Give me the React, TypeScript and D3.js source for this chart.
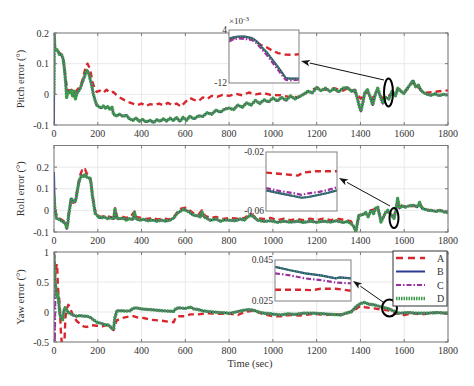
import React from 'react';
import * as d3 from 'd3';

type P = [number, number];

// ---------- data ----------
const xTicks = [0, 200, 400, 600, 800, 1000, 1200, 1400, 1600, 1800];
const pitchTicks = [-0.1, 0, 0.1, 0.2];
const rollTicks = [-0.1, 0, 0.1, 0.2];
const yawTicks = [-0.5, 0, 0.5, 1];
const legendNames = ['A', 'B', 'C', 'D'];

const pitchA: P[] = [[0,0.2],[5,0.15],[15,0.14],[25,0.135],[35,0.13],[42,0.12],[48,0.085],[55,0.04],[62,0.015],[70,0.012],[80,0.015],[90,0.005],[100,0.01],[112,0.02],[125,0.035],[135,0.06],[145,0.09],[153,0.1],[160,0.09],[168,0.07],[176,0.04],[185,0.02],[195,0.008],[210,0.012],[225,0.005],[240,0.015],[255,0.005],[270,0.008],[285,-0.002],[300,-0.01],[320,-0.018],[340,-0.025],[360,-0.03],[380,-0.035],[400,-0.03],[420,-0.038],[440,-0.032],[460,-0.035],[480,-0.03],[500,-0.036],[520,-0.028],[540,-0.035],[560,-0.03],[580,-0.04],[600,-0.025],[620,-0.012],[640,-0.018],[660,-0.022],[680,-0.01],[700,-0.015],[720,-0.005],[745,-0.008],[770,-0.002],[800,-0.005],[830,0.002],[860,-0.003],[890,0.006],[920,0],[958,0.004],[990,-0.002],[1035,-0.003],[1070,-0.008],[1113,-0.009],[1140,0],[1170,0.012],[1205,0.022],[1240,0.015],[1280,0.02],[1320,0.012],[1342,0.02],[1370,0.01],[1390,-0.005],[1402,-0.014],[1415,-0.005],[1432,0.01],[1456,-0.015],[1479,0.015],[1502,-0.015],[1530,-0.005],[1550,0.01],[1571,0.018],[1600,0.005],[1640,0.04],[1660,0.025],[1680,0.012],[1700,0.005],[1723,0.007],[1760,0.01],[1800,0.013]];
const pitchD: P[] = [[0,0],[1,0.195],[4,0.145],[15,0.145],[25,0.13],[35,0.128],[42,0.115],[48,0.08],[53,0.04],[58,-0.01],[63,0.01],[70,0.005],[78,0.012],[85,-0.005],[92,0.01],[98,-0.015],[105,0.005],[112,0.01],[120,0.02],[130,0.04],[140,0.06],[150,0.078],[158,0.07],[165,0.05],[172,0.03],[180,0],[188,-0.02],[195,-0.035],[205,-0.04],[215,-0.045],[225,-0.038],[235,-0.045],[245,-0.04],[255,-0.048],[265,-0.042],[272,-0.065],[285,-0.07],[300,-0.065],[315,-0.072],[330,-0.068],[345,-0.08],[360,-0.085],[375,-0.078],[390,-0.088],[405,-0.082],[420,-0.09],[440,-0.085],[455,-0.092],[470,-0.083],[485,-0.088],[500,-0.08],[515,-0.087],[530,-0.078],[545,-0.085],[560,-0.076],[575,-0.088],[590,-0.075],[605,-0.085],[620,-0.072],[640,-0.08],[660,-0.07],[680,-0.072],[700,-0.06],[720,-0.065],[740,-0.052],[760,-0.058],[780,-0.048],[800,-0.045],[820,-0.05],[840,-0.035],[860,-0.042],[880,-0.028],[900,-0.035],[920,-0.02],[940,-0.03],[960,-0.018],[980,-0.025],[1000,-0.012],[1020,-0.022],[1040,-0.01],[1060,-0.02],[1080,-0.005],[1100,-0.015],[1120,-0.008],[1140,0],[1160,0.01],[1180,0.005],[1200,0.022],[1220,0.012],[1240,0.02],[1260,0.01],[1280,0.018],[1300,0.008],[1320,0.02],[1340,0.022],[1360,0.01],[1375,0.015],[1385,-0.01],[1395,-0.04],[1402,-0.055],[1410,-0.03],[1420,0.005],[1432,0.015],[1445,-0.01],[1456,-0.035],[1468,0],[1479,0.02],[1490,-0.005],[1502,-0.03],[1515,-0.01],[1530,-0.015],[1545,0.01],[1560,-0.005],[1571,0.02],[1585,0.01],[1598,0.003],[1615,0.02],[1630,0.035],[1640,0.045],[1652,0.025],[1665,0.03],[1677,0.012],[1690,0.005],[1705,0],[1723,-0.003],[1740,0.002],[1760,-0.004],[1780,0],[1800,-0.003]];
const pitchBStart: P[] = [[0,-0.1]];

const rollA: P[] = [[0,0.05],[8,-0.01],[15,-0.03],[30,-0.04],[45,-0.05],[55,-0.06],[62,-0.07],[68,-0.02],[74,0.03],[80,0.05],[88,0.035],[96,0.04],[104,0.08],[112,0.13],[120,0.165],[128,0.185],[135,0.18],[142,0.19],[150,0.17],[160,0.165],[168,0.14],[175,0.08],[182,0.03],[190,-0.01],[200,-0.025],[215,-0.03],[235,-0.025],[255,-0.03],[272,-0.035],[279,0.01],[288,-0.03],[310,-0.028],[330,-0.035],[350,-0.03],[368,-0.005],[376,-0.03],[400,-0.035],[425,-0.04],[450,-0.035],[475,-0.042],[500,-0.038],[525,-0.042],[548,-0.03],[565,-0.005],[580,0.008],[600,0.012],[620,0],[640,-0.015],[660,-0.02],[676,0],[690,-0.025],[715,-0.035],[740,-0.03],[770,-0.04],[806,-0.035],[840,-0.038],[870,-0.035],[898,-0.015],[925,-0.035],[958,-0.04],[990,-0.035],[1020,-0.045],[1050,-0.038],[1080,-0.045],[1113,-0.04],[1140,-0.045],[1170,-0.038],[1200,-0.045],[1230,-0.038],[1264,-0.045],[1300,-0.04],[1330,-0.045],[1356,-0.05],[1370,-0.07],[1379,-0.09],[1386,-0.055],[1393,-0.025],[1420,-0.015],[1448,0],[1479,0.01],[1494,-0.045],[1525,-0.005],[1553,-0.03],[1570,0.04],[1590,0.018],[1625,0.02],[1650,0.02],[1670,0.03],[1690,0.005],[1723,0],[1760,0],[1800,-0.008]];
const rollD: P[] = [[0,0.07],[3,0.02],[8,-0.02],[12,-0.037],[20,-0.04],[30,-0.045],[43,-0.054],[52,-0.06],[58,-0.085],[63,-0.06],[68,-0.01],[73,0.015],[78,0.055],[83,0.05],[90,0.04],[96,0.038],[102,0.06],[108,0.1],[114,0.13],[120,0.15],[127,0.162],[135,0.158],[142,0.165],[150,0.154],[158,0.15],[165,0.148],[170,0.12],[175,0.07],[180,0.04],[188,-0.014],[195,-0.02],[203,-0.031],[215,-0.035],[230,-0.03],[245,-0.038],[260,-0.033],[272,-0.04],[279,0.005],[285,-0.035],[300,-0.04],[315,-0.035],[330,-0.045],[345,-0.038],[360,-0.042],[368,-0.01],[374,-0.038],[390,-0.045],[410,-0.042],[430,-0.048],[450,-0.044],[470,-0.05],[490,-0.045],[510,-0.05],[530,-0.045],[548,-0.035],[562,-0.014],[575,-0.005],[592,0.004],[605,0],[620,-0.01],[638,-0.023],[655,-0.025],[668,-0.03],[676,-0.008],[685,-0.03],[700,-0.038],[715,-0.046],[740,-0.04],[760,-0.05],[780,-0.044],[806,-0.046],[830,-0.048],[850,-0.04],[870,-0.045],[885,-0.03],[898,-0.022],[912,-0.03],[930,-0.045],[958,-0.051],[990,-0.048],[1020,-0.055],[1050,-0.05],[1080,-0.055],[1113,-0.05],[1140,-0.056],[1170,-0.05],[1200,-0.055],[1230,-0.05],[1264,-0.054],[1290,-0.048],[1320,-0.056],[1340,-0.052],[1356,-0.06],[1370,-0.075],[1379,-0.1],[1386,-0.06],[1393,-0.023],[1410,-0.02],[1425,-0.01],[1435,-0.03],[1448,0],[1460,-0.015],[1470,0.01],[1479,0.015],[1487,-0.02],[1494,-0.054],[1505,-0.03],[1515,-0.01],[1525,0],[1540,-0.02],[1553,-0.037],[1562,0],[1570,0.055],[1578,0.01],[1590,0.02],[1605,0.015],[1625,0.022],[1645,0.023],[1660,0.015],[1670,0.037],[1680,0.01],[1695,0.005],[1710,0],[1723,0],[1745,-0.005],[1765,0],[1785,-0.008],[1800,-0.01]];
const rollBStart: P[] = [[0,0.177]];

const yawA: P[] = [[0,1],[5,0.6],[10,0.75],[14,0.8],[17,0.5],[20,0.3],[24,0.2],[27,0.05],[31,-0.3],[35,-0.5],[42,-0.5],[48,-0.48],[52,-0.1],[58,0.05],[66,0.12],[75,0.05],[90,-0.08],[104,-0.15],[120,-0.2],[135,-0.24],[150,-0.25],[170,-0.22],[196,-0.23],[220,-0.24],[241,-0.22],[255,-0.24],[264,-0.28],[272,-0.3],[280,-0.2],[287,-0.14],[310,-0.1],[348,-0.07],[363,-0.07],[380,-0.09],[410,-0.1],[440,-0.13],[480,-0.14],[520,-0.16],[547,-0.17],[555,-0.1],[562,-0.07],[600,-0.07],[623,-0.04],[660,-0.04],[700,-0.02],[750,-0.03],[806,-0.03],[840,-0.05],[870,0],[912,0.02],[958,-0.04],[1000,-0.07],[1035,-0.07],[1080,-0.05],[1120,-0.06],[1189,-0.03],[1240,-0.05],[1270,-0.04],[1311,-0.04],[1340,-0.02],[1380,0.05],[1400,0.1],[1420,0.08],[1462,0.06],[1500,0.04],[1525,0.03],[1560,-0.02],[1600,-0.05],[1640,-0.02],[1680,-0.04],[1720,-0.02],[1760,-0.01],[1800,-0.03]];
const yawD: P[] = [[0,0.95],[3,0.6],[6,0.5],[10,0.35],[14,0.25],[18,0.3],[22,0.15],[27,-0.04],[33,-0.1],[40,-0.13],[45,0.02],[50,0.07],[58,0.03],[66,-0.01],[73,-0.02],[85,-0.05],[104,-0.07],[120,-0.06],[135,-0.07],[150,-0.07],[165,-0.09],[180,-0.13],[196,-0.17],[215,-0.19],[234,-0.21],[250,-0.22],[264,-0.27],[272,-0.29],[278,-0.1],[287,0.02],[310,0.02],[330,0.015],[348,0.02],[360,0.06],[375,0.07],[400,0.05],[440,0.04],[470,0.03],[500,0.02],[547,0.01],[555,0.05],[570,0.07],[600,0.06],[623,0.08],[640,0.05],[660,0.04],[680,0.02],[700,0.01],[730,0],[760,-0.01],[806,-0.02],[830,0],[867,0.03],[890,0.04],[912,0.03],[935,0],[958,-0.02],[990,-0.03],[1035,-0.05],[1070,-0.03],[1100,-0.04],[1140,-0.02],[1189,-0.02],[1230,-0.03],[1270,-0.04],[1311,-0.05],[1340,-0.01],[1357,0],[1380,0.09],[1400,0.14],[1417,0.16],[1440,0.13],[1462,0.12],[1490,0.09],[1525,0.06],[1550,0.02],[1570,-0.02],[1620,-0.01],[1660,-0.02],[1700,-0.02],[1750,-0.01],[1800,-0.02]];
const yawBStart: P[] = [[0,1]];
const yawCStart: P[] = [[0,1],[4,-0.5],[7,0.45]];

// insets (x = fraction of the zoomed window)
const pitchInsetA: P[] = [[0,1.3],[0.2,1.9],[0.35,1.2],[0.45,-0.5],[0.52,-1.0],[0.6,-2.0],[0.7,-3.0],[0.8,-3.4],[0.9,-3.5],[1,-3.3]];
const pitchInsetB: P[] = [[0,1.3],[0.062,1.8],[0.133,2.0],[0.229,2.0],[0.324,1.6],[0.395,0.6],[0.467,-1.2],[0.538,-2.7],[0.61,-4.7],[0.681,-6.7],[0.752,-8.7],[0.81,-10.5],[0.871,-10.7],[1,-10.7]];
const pitchInsetC: P[] = [[0,0.5],[0.062,1.2],[0.133,1.5],[0.229,1.3],[0.324,1.0],[0.395,0.0],[0.467,-1.8],[0.538,-3.5],[0.61,-5.5],[0.681,-7.5],[0.752,-9.5],[0.81,-11.0],[0.871,-11.2],[1,-11.0]];
const rollInsetA: P[] = [[0,-0.034],[0.25,-0.035],[0.45,-0.036],[0.52,-0.034],[0.7,-0.033],[1,-0.033]];
const rollInsetB: P[] = [[0,-0.046],[0.2,-0.048],[0.4,-0.05],[0.5,-0.051],[0.6,-0.0505],[0.75,-0.049],[0.85,-0.048],[1,-0.046]];
const rollInsetC: P[] = [[0,-0.0445],[0.2,-0.0465],[0.4,-0.048],[0.5,-0.049],[0.6,-0.048],[0.75,-0.047],[0.85,-0.046],[1,-0.044]];
const yawInsetA: P[] = [[0,0.0305],[0.3,0.0305],[0.5,0.0303],[0.6,0.031],[0.8,0.031],[1,0.030]];
const yawInsetB: P[] = [[0,0.0417],[0.2,0.04],[0.4,0.0385],[0.6,0.0375],[0.8,0.036],[0.85,0.0365],[1,0.036]];
const yawInsetC: P[] = [[0,0.0385],[0.2,0.0375],[0.4,0.036],[0.6,0.0352],[0.8,0.034],[1,0.0336]];

// ---------- styles ----------
const FONT = '"Liberation Serif", "DejaVu Serif", serif';
const COL = { A: '#d8262e', B: '#2b3a92', C: '#9a2f9d', D: '#3b9d48' };
const STYLE: Record<string, { dash?: string; w: number }> = {
  A: { dash: '6,4', w: 2.4 },
  B: { w: 2 },
  C: { dash: '5,2,1.5,2', w: 2 },
  D: { dash: '2,0.8', w: 3.3 },
};

const W = 474, H = 386, X0 = 54, X1 = 448;
const x = d3.scaleLinear().domain([0, 1800]).range([X0, X1]);

type Series = { A: P[]; B: P[]; C: P[]; D: P[] };

function Panel(props: { id: string; top: number; bottom: number; domain: [number, number]; ticks: number[]; label: string; series: Series; fmt: (v: number) => string }) {
  const { id, top, bottom, domain, ticks, label, series, fmt } = props;
  const y = d3.scaleLinear().domain(domain).range([bottom, top]);
  const line = d3.line<P>().x(d => x(d[0])).y(d => y(d[1]));
  const cy = (top + bottom) / 2;
  return (
    <g>
      <defs>
        <clipPath id={id}><rect x={X0} y={top} width={X1 - X0} height={bottom - top} /></clipPath>
      </defs>
      <rect x={X0} y={top} width={X1 - X0} height={bottom - top} fill="#fff" />
      {xTicks.map(t => <line key={'gx' + t} x1={x(t)} x2={x(t)} y1={top} y2={bottom} stroke="#e3e3e3" strokeWidth={0.8} />)}
      {ticks.map(t => <line key={'gy' + t} x1={X0} x2={X1} y1={y(t)} y2={y(t)} stroke="#e3e3e3" strokeWidth={0.8} />)}
      <g clipPath={`url(#${id})`}>
        {(['A', 'B', 'C', 'D'] as const).map(k => (
          <path key={k} d={line(series[k]) || ''} fill="none" stroke={COL[k]} strokeWidth={STYLE[k].w} strokeDasharray={STYLE[k].dash} strokeLinejoin="round" />
        ))}
      </g>
      <rect x={X0} y={top} width={X1 - X0} height={bottom - top} fill="none" stroke="#7a7a7a" strokeWidth={1} />
      {xTicks.map(t => (
        <g key={'tx' + t}>
          <line x1={x(t)} x2={x(t)} y1={bottom} y2={bottom - 3} stroke="#7a7a7a" />
          <line x1={x(t)} x2={x(t)} y1={top} y2={top + 3} stroke="#7a7a7a" />
          <text x={x(t)} y={bottom + 12} textAnchor="middle" fontSize={10} fontFamily={FONT} fill="#333">{t}</text>
        </g>
      ))}
      {ticks.map(t => (
        <g key={'ty' + t}>
          <line x1={X0} x2={X0 + 3} y1={y(t)} y2={y(t)} stroke="#7a7a7a" />
          <line x1={X1} x2={X1 - 3} y1={y(t)} y2={y(t)} stroke="#7a7a7a" />
          <text x={X0 - 5} y={y(t) + 3.5} textAnchor="end" fontSize={10} fontFamily={FONT} fill="#333">{fmt(t)}</text>
        </g>
      ))}
      <text transform={`translate(24,${cy}) rotate(-90)`} textAnchor="middle" fontSize={10.5} fontFamily={FONT} fill="#333">{label}</text>
    </g>
  );
}

function Inset(props: { id: string; x0: number; y0: number; x1: number; y1: number; domain: [number, number]; labels: [string, string]; a: P[]; b: P[]; c: P[]; extra?: string }) {
  const { id, x0, y0, x1, y1, domain, labels, a, b, c, extra } = props;
  const ix = d3.scaleLinear().domain([0, 1]).range([x0, x1]);
  const iy = d3.scaleLinear().domain(domain).range([y1, y0]);
  const line = d3.line<P>().x(d => ix(d[0])).y(d => iy(d[1]));
  return (
    <g>
      <defs><clipPath id={id}><rect x={x0} y={y0} width={x1 - x0} height={y1 - y0} /></clipPath></defs>
      <rect x={x0} y={y0} width={x1 - x0} height={y1 - y0} fill="#fff" />
      <g clipPath={`url(#${id})`}>
        <path d={line(a) || ''} fill="none" stroke={COL.A} strokeWidth={2.4} strokeDasharray="6,4" />
        <path d={line(b) || ''} fill="none" stroke={COL.B} strokeWidth={2.2} />
        <path d={line(c) || ''} fill="none" stroke={COL.C} strokeWidth={2.2} strokeDasharray="5,2,1.5,2" />
        <path d={line(b) || ''} fill="none" stroke={COL.D} strokeWidth={1.8} strokeDasharray="1.5,1.2" />
      </g>
      <rect x={x0} y={y0} width={x1 - x0} height={y1 - y0} fill="none" stroke="#808080" strokeWidth={1} />
      <text x={x0 - 2} y={y0 + 3} textAnchor="end" fontSize={9.5} fontFamily={FONT} fill="#333">{labels[0]}</text>
      <text x={x0 - 2} y={y1 + 3} textAnchor="end" fontSize={9.5} fontFamily={FONT} fill="#333">{labels[1]}</text>
      {extra ? <text x={x0} y={y0 - 6} fontSize={9} fontFamily={FONT} fill="#333">×10<tspan dy={-3} fontSize={7}>{extra}</tspan></text> : null}
    </g>
  );
}

function Arrow(props: { fx: number; fy: number; tx: number; ty: number }) {
  const { fx, fy, tx, ty } = props;
  const ang = Math.atan2(ty - fy, tx - fx);
  const L = 9, Wd = 3.2;
  const bx = tx - L * Math.cos(ang), by = ty - L * Math.sin(ang);
  const px = -Math.sin(ang) * Wd, py = Math.cos(ang) * Wd;
  return (
    <g>
      <line x1={fx} y1={fy} x2={bx} y2={by} stroke="#111" strokeWidth={1} />
      <path d={`M${tx},${ty}L${bx + px},${by + py}L${bx + L * 0.25 * Math.cos(ang)},${by + L * 0.25 * Math.sin(ang)}L${bx - px},${by - py}Z`} fill="#111" />
    </g>
  );
}

const fmt1 = (v: number) => (v === 0 ? '0' : String(v));

export default function App() {
  const pitch: Series = { A: pitchA, B: [...pitchBStart, ...pitchD.slice(1)], C: pitchD, D: pitchD };
  const roll: Series = { A: rollA, B: [...rollBStart, ...rollD.slice(1)], C: rollD, D: rollD };
  const yaw: Series = { A: yawA, B: [...yawBStart, ...yawD.slice(1)], C: [...yawCStart, ...yawD.slice(3)], D: yawD };
  const legendY = [258, 271.5, 285, 298.5];
  return (
    <svg width={W} height={H} style={{ position: 'absolute', left: 0, top: 0, background: '#fff' }}>
      <rect width={W} height={H} fill="#fff" />
      <Panel id="cp1" top={33} bottom={125} domain={[-0.1, 0.2]} ticks={pitchTicks} label="Pitch error (°)" series={pitch} fmt={fmt1} />
      <Panel id="cp2" top={145.5} bottom={232} domain={[-0.1, 0.3]} ticks={rollTicks} label="Roll error (°)" series={roll} fmt={fmt1} />
      <Panel id="cp3" top={252} bottom={342} domain={[-0.5, 1]} ticks={yawTicks} label="Yaw error (°)" series={yaw} fmt={fmt1} />
      <text x={250} y={367} textAnchor="middle" fontSize={10.5} fontFamily={FONT} fill="#333">Time (sec)</text>

      <Inset id="ci1" x0={229} y0={30} x1={299} y1={83} domain={[-12, 4]} labels={['4', '-12']} a={pitchInsetA} b={pitchInsetB} c={pitchInsetC} extra="-3" />
      <Inset id="ci2" x0={266} y0={152} x1={337} y1={211} domain={[-0.06, -0.02]} labels={['-0.02', '-0.06']} a={rollInsetA} b={rollInsetB} c={rollInsetC} />
      <Inset id="ci3" x0={275} y0={260} x1={351} y1={301} domain={[0.025, 0.045]} labels={['0.045', '0.025']} a={yawInsetA} b={yawInsetB} c={yawInsetC} />

      <ellipse cx={388.5} cy={92.5} rx={4.5} ry={14} fill="none" stroke="#000" strokeWidth={2} />
      <ellipse cx={394} cy={218} rx={4.5} ry={10} fill="none" stroke="#000" strokeWidth={2} />
      <ellipse cx={389.5} cy={308} rx={7.5} ry={8.5} fill="none" stroke="#000" strokeWidth={2} />
      <Arrow fx={384} fy={80} tx={301} ty={61} />
      <Arrow fx={390} fy={206} tx={339} ty={178} />
      <Arrow fx={383} fy={302} tx={353} ty={281} />

      <rect x={393} y={251} width={54} height={55} fill="#fff" stroke="#333" strokeWidth={1} />
      {legendNames.map((n, i) => {
        const k = n as 'A' | 'B' | 'C' | 'D';
        return (
          <g key={n}>
            <line x1={396} x2={425} y1={legendY[i]} y2={legendY[i]} stroke={COL[k]} strokeWidth={STYLE[k].w} strokeDasharray={k === 'A' ? '7,5' : k === 'D' ? '1.5,1' : STYLE[k].dash} />
            <text x={437} y={legendY[i] + 3.5} fontSize={10} fontFamily={FONT} fill="#333">{n}</text>
          </g>
        );
      })}
    </svg>
  );
}
